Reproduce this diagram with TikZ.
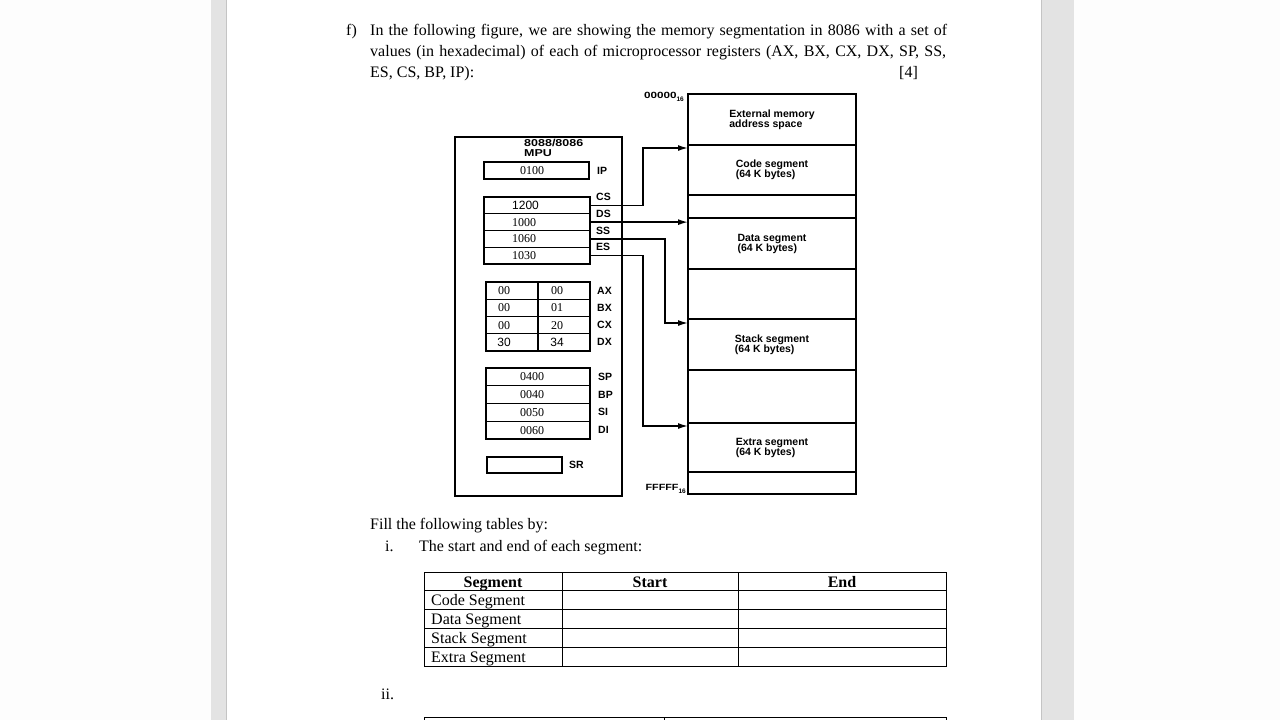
\documentclass[tikz,border=0pt]{standalone}
\usepackage{fontspec}
\usepackage{graphicx}
\setmainfont{Liberation Serif}
\setsansfont{Liberation Sans}
\usetikzlibrary{arrows.meta,positioning}
\definecolor{pagegrey}{HTML}{E3E3E3}
\definecolor{pageedge}{HTML}{C4C4C4}
\definecolor{offwhite}{HTML}{FDFDFD}
\newcommand{\widetext}[2]{\scalebox{#1}[1]{#2}}
\newcommand{\hexsub}{\raisebox{-2.5pt}{\fontsize{6.5}{6.5}\selectfont\bfseries 16}}
\tikzset{
 body text/.style={anchor=base west,inner sep=0pt,font=\fontsize{16}{21}\selectfont},
 unit box/.style={draw,line width=1.5pt,anchor=north west,inner sep=0pt,outer sep=0pt},
 reg row/.style={unit box,line width=1.4pt},
 reg value/.style={inner sep=0pt,font=\fontsize{12}{12}\selectfont},
 reg label/.style={inner sep=0pt,anchor=west,font=\sffamily\bfseries\fontsize{10.5}{11}\selectfont},
 mpu title/.style={inner sep=0pt,anchor=north west,align=left,font=\sffamily\bfseries\fontsize{10}{10}\selectfont},
 mem block/.style={unit box,minimum width=168pt,align=left,font=\sffamily\bfseries\fontsize{10.5}{10}\selectfont},
 addr label/.style={inner sep=0pt,anchor=east,font=\sffamily\bfseries\fontsize{9}{9}\selectfont},
 seg link/.style={line width=1.5pt,-{Latex[length=10pt,width=6pt]}},
 tab cell/.style={draw,line width=0.9pt,anchor=north west,inner sep=0pt,outer sep=0pt,minimum height=18.8pt},
 tab text/.style={anchor=base west,inner sep=0pt,font=\fontsize{16}{18}\selectfont}
}
\begin{document}
\begin{tikzpicture}[x=1pt,y=-1pt]
 \useasboundingbox (0,0) rectangle (1280,720);
 % page and margins
 \fill[offwhite] (0,0) rectangle (1280,720);
 \fill[white] (227,0) rectangle (1041,720);
 \fill[pagegrey] (211,0) rectangle (227,720);
 \fill[pagegrey] (1041,0) rectangle (1074,720);
 \draw[pageedge] (226.5,0) -- (226.5,720) (1041.5,0) -- (1041.5,720);

 % question
 \node[body text] (qlabel) at (346,35) {f)};
 \node[body text] (qline1) at (370,35) {\makebox[577pt][s]{In the following figure, we are showing the memory segmentation in 8086 with a set of}};
 \node[body text] (qline2) at (370,56) {\makebox[576pt][s]{values (in hexadecimal) of each of microprocessor registers (AX, BX, CX, DX, SP, SS,}};
 \node[body text] (qline3) at (370,77) {ES, CS, BP, IP):};
 \node[body text] (qmarks) at (899,77) {[4]};

 % microprocessor
 \node[unit box,minimum width=167pt,minimum height=359pt] (mpu) at (455,137) {};
 \node[mpu title] (mputitle) at (524,139) {\widetext{1.25}{8088/8086}\\\widetext{1.25}{MPU}};
 \node[reg row,minimum width=105pt,minimum height=17pt] (regip) at (484,162) {};
 \node[reg value,anchor=west] (valip) at ([xshift=36pt]regip.west) {0100};
 \node[reg label] (labip) at ([xshift=8pt]regip.east) {IP};
 \foreach \sname/\sval/\slab [count=\i from 0] in {cs/\textsf{1200}/CS,ds/1000/DS,ss/1060/SS,es/1030/ES}{
  \node[reg row,minimum width=106pt,minimum height=16.75pt] (reg\sname) at (484,{197+16.75*\i}) {};
  \node[reg value,anchor=west] (val\sname) at ([xshift=28pt]reg\sname.west) {\sval};
  \node[reg label] (lab\sname) at ([xshift=6pt]reg\sname.north east) {\slab};
 }
 \foreach \gname/\lov/\hiv/\glab [count=\i from 0] in {ax/00/00/AX,bx/00/01/BX,cx/00/20/CX,dx/\textsf{30}/\textsf{34}/DX}{
  \node[reg row,minimum width=52pt,minimum height=17.25pt] (lo\gname) at (486,{282+17.25*\i}) {};
  \node[reg row,minimum width=52pt,minimum height=17.25pt] (hi\gname) at (538,{282+17.25*\i}) {};
  \node[reg value] (lov\gname) at ([xshift=-8pt]lo\gname.center) {\lov};
  \node[reg value] (hiv\gname) at ([xshift=-7pt]hi\gname.center) {\hiv};
  \node[reg label] (lab\gname) at ([xshift=7pt]hi\gname.east) {\glab};
 }
 \foreach \pname/\pval/\plab [count=\i from 0] in {sp/0400/SP,bp/0040/BP,si/0050/SI,di/0060/DI}{
  \node[reg row,minimum width=104pt,minimum height=17.75pt] (reg\pname) at (486,{368+17.75*\i}) {};
  \node[reg value,anchor=west] (val\pname) at ([xshift=34pt]reg\pname.west) {\pval};
  \node[reg label] (lab\pname) at ([xshift=8pt]reg\pname.east) {\plab};
 }
 \node[reg row,minimum width=75pt,minimum height=16pt] (regsr) at (487,457) {};
 \node[reg label] (labsr) at ([xshift=7pt]regsr.east) {SR};

 % memory map
 \foreach \blk/\blky/\blkh/\blktxt in {ext/94/51/{External memory\\address space},code/145/50/{Code segment\\(64 K bytes)},gapa/195/23/{},data/218/51/{Data segment\\(64 K bytes)},gapb/269/50/{},stack/319/51/{Stack segment\\(64 K bytes)},gapc/370/53/{},extra/423/49/{Extra segment\\(64 K bytes)},gapd/472/22/{}}
  \node[mem block,minimum height=\blkh pt] (\blk) at (688,\blky) {\blktxt};
 \node[addr label] (addrlow) at ([xshift=-4pt,yshift=-3pt]ext.north west) {\widetext{1.3}{00000}\hexsub};
 \node[addr label] (addrhigh) at ([xshift=-2pt,yshift=5pt]gapd.south west) {\widetext{1.2}{FFFFF}\hexsub};

 \draw[seg link] (regcs.east) -- ++(53,0) |- ([yshift=-3pt]code.north west);
 \draw[seg link] (regds.east) -- (regds.east -| data.west);
 \draw[seg link] (regss.east) -- ++(75,0) |- ([yshift=-4pt]stack.north west);
 \draw[seg link] (reges.east) -- ++(53,0) |- ([yshift=-3pt]extra.north west);

 % tables
 \node[body text] (fillnote) at (370,529) {Fill the following tables by:};
 \node[body text] (itemi) at (385,551) {i.};
 \node[body text] (itemitext) at (419,551) {The start and end of each segment:};
 \node[tab cell,minimum width=138pt] (hseg) at (424,572) {};
 \node[tab cell,minimum width=176pt] (hstart) at (562,572) {};
 \node[tab cell,minimum width=208pt] (hend) at (738,572) {};
 \node[tab text,anchor=base] (thseg) at ([yshift=3.5pt]hseg.south) {\textbf{Segment}};
 \node[tab text,anchor=base] (thstart) at ([yshift=3.5pt]hstart.south) {\textbf{Start}};
 \node[tab text,anchor=base] (thend) at ([yshift=3.5pt]hend.south) {\textbf{End}};
 \foreach \tname/\ttxt [count=\i from 1] in {code/Code Segment,data/Data Segment,stack/Stack Segment,extra/Extra Segment}{
  \node[tab cell,minimum width=138pt] (cseg\tname) at (424,{572+18.8*\i}) {};
  \node[tab cell,minimum width=176pt] (cstart\tname) at (562,{572+18.8*\i}) {};
  \node[tab cell,minimum width=208pt] (cend\tname) at (738,{572+18.8*\i}) {};
  \node[tab text] (tt\tname) at ([xshift=7pt,yshift=4pt]cseg\tname.south west) {\ttxt};
 }
 \node[body text] (itemii) at (381,699) {ii.};
 \node[tab cell,minimum width=240pt,minimum height=19pt] (nexta) at (424,717) {};
 \node[tab cell,minimum width=282pt,minimum height=19pt] (nextb) at (664,717) {};
\end{tikzpicture}
\end{document}
